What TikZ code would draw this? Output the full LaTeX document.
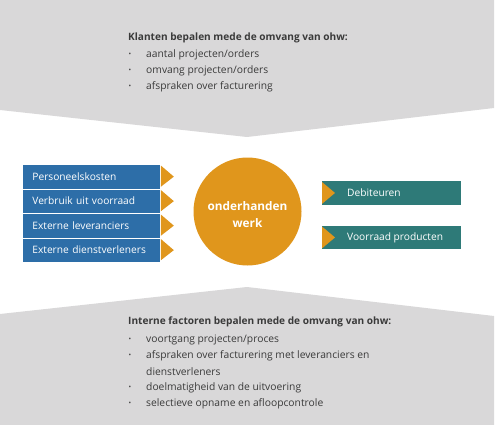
\documentclass[tikz,border=0pt]{standalone}
\usepackage{fontspec}
\setmainfont{Open Sans}
\usetikzlibrary{positioning}
\definecolor{ohwgrey}{HTML}{D9D8D9}
\definecolor{ohwblue}{HTML}{2D6EA8}
\definecolor{ohwteal}{HTML}{2E7A78}
\definecolor{ohworange}{HTML}{E0961C}
\definecolor{ohwtext}{HTML}{3A3A3A}
\begin{document}
\begin{tikzpicture}[x=1pt, y=-1pt,
        kostbox/.style={fill=ohwblue, draw=white, line width=0.8pt, anchor=north west,
          minimum height=24.5pt, text width=118pt, inner xsep=10pt, align=left,
          text=white, font=\fontsize{10.2}{12}\selectfont},
        uitbox/.style={fill=ohwteal, anchor=north west, minimum height=23.5pt,
          minimum width=139pt, inner sep=0pt},
        uittekst/.style={anchor=west, text=white, inner sep=0pt,
          font=\fontsize{10.2}{12}\selectfont},
        kopje/.style={anchor=west, inner sep=0pt, text=ohwtext,
          font=\fontsize{10.1}{12}\selectfont\bfseries},
        punt/.style={anchor=west, inner sep=0pt, text=ohwtext,
          font=\fontsize{10.3}{12}\selectfont},
        bol/.style={anchor=west, inner sep=0pt, text=ohwtext, font=\fontsize{7}{8}\selectfont},
        pijl/.style={fill=ohworange}
      ]
      \useasboundingbox (0,0) rectangle (495,425);
      \fill[white] (0,0) rectangle (495,425);
      % grijze vlakken boven en onder
      \fill[ohwgrey] (0,0) -- (494,0) -- (494,108) -- (247,137) -- (0,110) -- cycle;
      \fill[ohwgrey] (0,314) -- (247,287) -- (494,316) -- (494,425) -- (0,425) -- cycle;
      % klanten
      \node[kopje] (klant) at (128,38) {Klanten bepalen mede de omvang van ohw:};
      \foreach \name/\lbl/\y in {%
        klanta/aantal projecten\slash orders/55,
        klantb/omvang projecten\slash orders/71,
        klantc/afspraken over facturering/87%
      }{
        \node[bol] at (128.5,\y) {\textbullet};
        \node[punt] (\name) at (146,\y) {\lbl};
      }
      % kosten links
      \foreach \name/\lbl/\y in {%
        kosta/Personeelskosten/164,
        kostb/Verbruik uit voorraad/188.5,
        kostc/Externe leveranciers/213,
        kostd/Externe dienstverleners/237.5%
      }{
        \node[kostbox] (\name) at (22,\y) {\lbl};
        \fill[pijl] ([yshift=-1.5pt]\name.north east) -- ([xshift=13pt]\name.east)
          -- ([yshift=2.5pt]\name.south east) -- cycle;
      }
      % onderhanden werk
      \node[circle, fill=ohworange, minimum size=108pt, inner sep=0pt] (ohw) at (247.5,211.5) {};
      \node[align=center, text=white, inner sep=0pt,
        font=\fontsize{11.8}{17}\selectfont\bfseries] (ohwtxt) at (247.5,215) {onderhanden\\werk};
      % uitstroom rechts
      \foreach \name/\lbl/\y in {%
        debiteur/Debiteuren/181,
        voorraad/Voorraad producten/225.5%
      }{
        \node[uitbox] (\name) at (322,\y) {};
        \node[uittekst] (\name txt) at ([xshift=25pt]\name.west) {\lbl};
        \fill[pijl] ([yshift=-1pt]\name.north west) -- ([xshift=13pt]\name.west)
          -- ([yshift=1pt]\name.south west) -- cycle;
      }
      % interne factoren
      \node[kopje] (intern) at (128,322) {Interne factoren bepalen mede de omvang van ohw:};
      \foreach \name/\lbl/\y/\b in {%
        interna/voortgang projecten\slash proces/340/1,
        internb/afspraken over facturering met leveranciers en/356/1,
        internc/dienstverleners/372/0,
        internd/doelmatigheid van de uitvoering/388/1,
        interne/selectieve opname en afloopcontrole/404/1%
      }{
        \ifnum\b=1 \node[bol] at (128.5,\y) {\textbullet}; \fi
        \node[punt] (\name) at (146,\y) {\lbl};
      }
    \end{tikzpicture}
\end{document}
